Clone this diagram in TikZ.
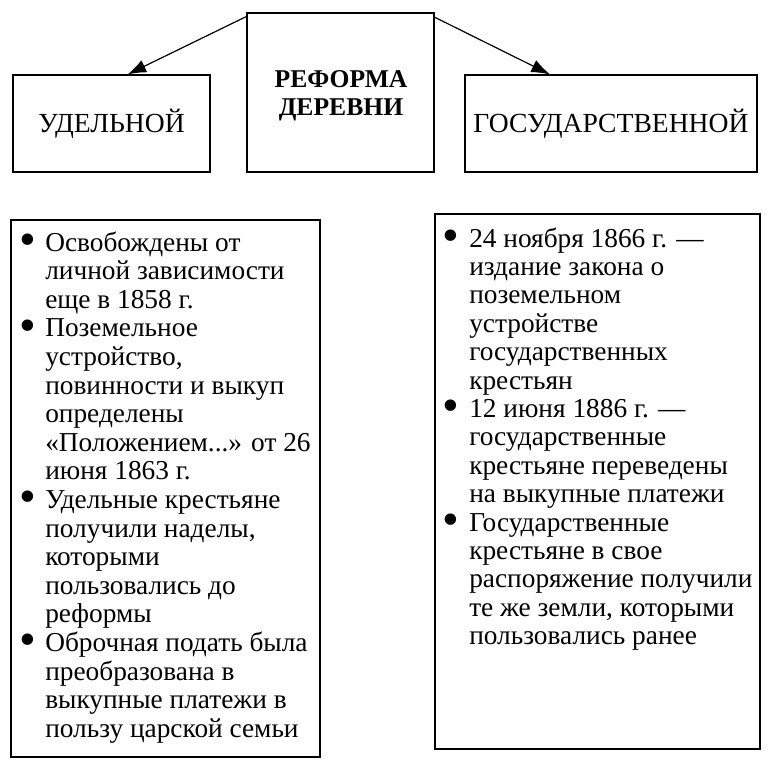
\documentclass[tikz,border=0pt]{standalone}
\usepackage{fontspec}
\setmainfont{Liberation Serif}
\usetikzlibrary{arrows.meta, positioning}

\newcommand{\blt}{\raisebox{-0.16em}{\scalebox{1.75}{\textbullet}}}

\begin{document}
\begin{tikzpicture}[x=0.75pt, y=-0.75pt, >={Latex[length=14pt, width=10pt]},
  box/.style={draw, line width=0.8pt, inner sep=0pt},
  head/.style={box, font=\fontsize{20.7}{24}\selectfont},
  listtext/.style={inner sep=0pt, anchor=base west}]
\useasboundingbox (0,0) rectangle (773,768);

\node[box, minimum width=140.25pt, minimum height=119.25pt] (reform) at (340.5,92.5) {};
\node[align=center, font=\fontsize{19.2}{21}\selectfont\bfseries] (reftxt) at (341,96) {РЕФОРМА\\ДЕРЕВНИ};
\node[head, minimum width=147.75pt, minimum height=72.75pt] (udel) at (111.5,123.5) {УДЕЛЬНОЙ};
\node[head, minimum width=219pt, minimum height=72.75pt] (gos) at (611,123.5) {ГОСУДАРСТВЕННОЙ};

\draw[->, line width=0.9pt] ([yshift=-3pt]reform.north west) -- ([xshift=12pt]udel.north);
\draw[->, line width=0.9pt] ([yshift=-3.5pt]reform.north east) -- ([xshift=-45.75pt]gos.north);

% lists
\node[box, minimum width=231.75pt, minimum height=402.75pt] (ulist) at (165.5,488.5) {};
\node[box, minimum width=243.75pt, minimum height=401.25pt] (glist) at (597.5,481.5) {};

\node[listtext, font=\fontsize{20.5}{21.45}\selectfont] (utxt) at (19,251) {\begin{tabular}[t]{@{}p{19.5pt}@{}l@{}}
\blt & Освобождены от\\
 & личной зависимости\\
 & еще в 1858 г.\\
\blt & Поземельное\\
 & устройство,\\
 & повинности и выкуп\\
 & определены\\
 & «Положением...» от 26\\
 & июня 1863 г.\\
\blt & Удельные крестьяне\\
 & получили наделы,\\
 & которыми\\
 & пользовались до\\
 & реформы\\
\blt & Оброчная подать была\\
 & преобразована в\\
 & выкупные платежи в\\
 & пользу царской семьи
\end{tabular}};

\node[listtext, font=\fontsize{20.5}{21.3}\selectfont] (gtxt) at (442,247) {\begin{tabular}[t]{@{}p{20.25pt}@{}l@{}}
\blt & 24 ноября 1866 г. —\\
 & издание закона о\\
 & поземельном\\
 & устройстве\\
 & государственных\\
 & крестьян\\
\blt & 12 июня 1886 г. —\\
 & государственные\\
 & крестьяне переведены\\
 & на выкупные платежи\\
\blt & Государственные\\
 & крестьяне в свое\\
 & распоряжение получили\\
 & те же земли, которыми\\
 & пользовались ранее
\end{tabular}};
\end{tikzpicture}
\end{document}
